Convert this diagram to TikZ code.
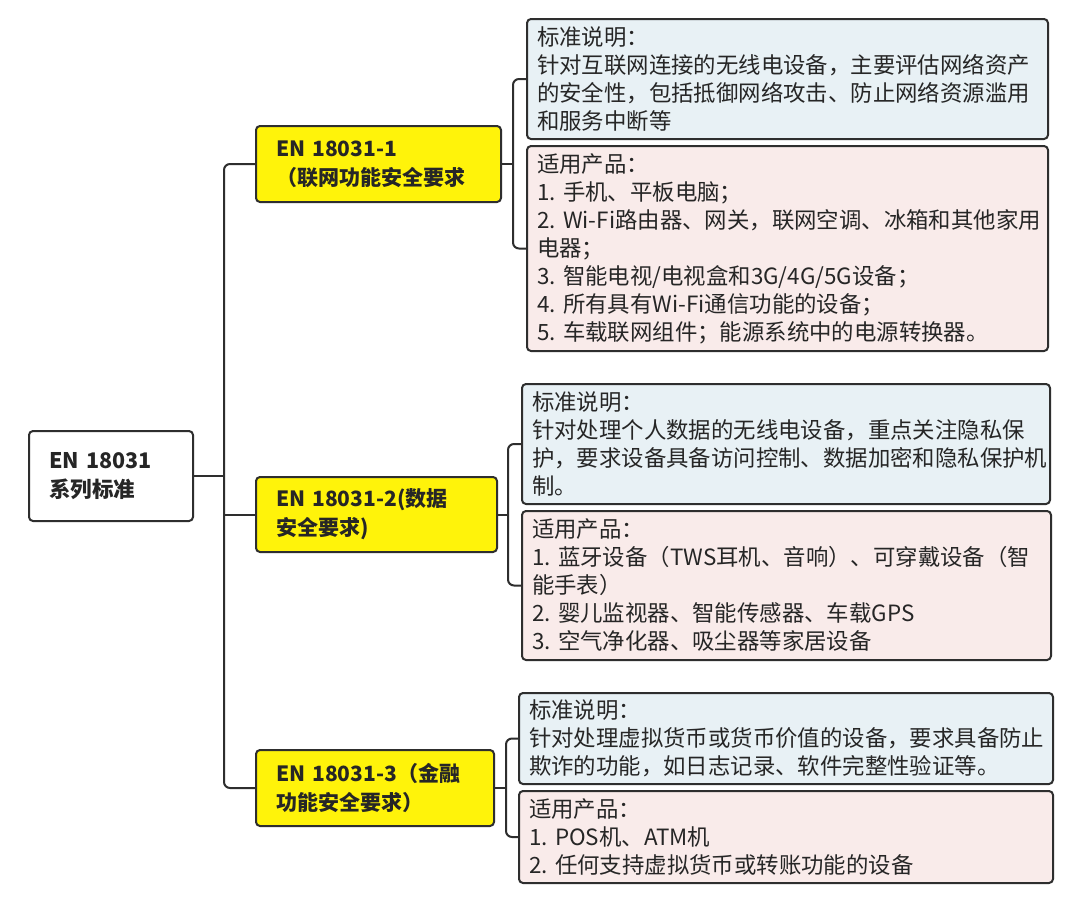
\documentclass[tikz,border=0pt]{standalone}
\usepackage{fontspec}
\setmainfont{Noto Sans CJK SC}
\frenchspacing
\definecolor{linec}{HTML}{2E2E2E}
\definecolor{textc}{HTML}{262626}
\definecolor{yellowc}{HTML}{FFF30A}
\definecolor{bluec}{HTML}{E8F1F5}
\definecolor{pinkc}{HTML}{F9EBEA}
\begin{document}
\begin{tikzpicture}[x=1pt,y=-1pt,
  conn/.style={draw=linec, line width=2pt, rounded corners=6pt},
  box/.style={draw=linec, line width=2pt, rounded corners=4pt, anchor=north west, align=left, inner ysep=0pt, text=textc},
  rootbox/.style={box, fill=white, inner xsep=20pt, font=\bfseries\fontsize{21.5}{29}\selectfont},
  stdbox/.style={box, fill=yellowc, inner xsep=20pt, font=\bfseries\fontsize{21}{29}\selectfont},
  infobox/.style={box, fill=bluec, inner xsep=10pt, font=\fontsize{22.4}{28}\selectfont},
  prodbox/.style={box, fill=pinkc, inner xsep=10pt, font=\fontsize{22.4}{28}\selectfont},
]
\fill[white] (0,0) rectangle (1080,905);
\useasboundingbox (0,0) rectangle (1080,905);

\node[rootbox, text width=124pt, minimum height=90pt] (root) at (28,430) {EN 18031\\系列标准};

\node[stdbox, text width=205pt, minimum height=76pt] (b1) at (255,125) {EN 18031-1\\（联网功能安全要求};
\node[stdbox, text width=201pt, minimum height=75pt] (b2) at (255,476) {EN 18031-2(数据\\安全要求)};
\node[stdbox, text width=198pt, minimum height=76pt] (b3) at (255,749) {EN 18031-3（金融\\功能安全要求）};

\node[infobox, text width=501pt, minimum height=120pt] (l1a) at (526,18) {标准说明：\\针对互联网连接的无线电设备，主要评估网络资产\\的安全性，包括抵御网络攻击、防止网络资源滥用\\和服务中断等};
\node[prodbox, text width=501pt, minimum height=205pt] (l1b) at (526,145) {适用产品：\\1. 手机、平板电脑；\\2. Wi-Fi路由器、网关，联网空调、冰箱和其他家用\\电器；\\3. 智能电视/电视盒和3G/4G/5G设备；\\4. 所有具有Wi-Fi通信功能的设备；\\5. 车载联网组件；能源系统中的电源转换器。};

\node[infobox, text width=508pt, minimum height=120pt] (l2a) at (521,383) {标准说明：\\针对处理个人数据的无线电设备，重点关注隐私保\\护，要求设备具备访问控制、数据加密和隐私保护机\\制。};
\node[prodbox, text width=509pt, minimum height=149pt] (l2b) at (521,510) {适用产品：\\1. 蓝牙设备（TWS耳机、音响）、可穿戴设备（智\\能手表）\\2. 婴儿监视器、智能传感器、车载GPS\\3. 空气净化器、吸尘器等家居设备};

\node[infobox, text width=514pt, minimum height=91pt] (l3a) at (518,692) {标准说明：\\针对处理虚拟货币或货币价值的设备，要求具备防止\\欺诈的功能，如日志记录、软件完整性验证等。};
\node[prodbox, text width=514pt, minimum height=92pt] (l3b) at (518,790) {适用产品：\\1. POS机、ATM机\\2. 任何支持虚拟货币或转账功能的设备};

\coordinate (tx) at (224,0);
\coordinate (s1) at (513,0);
\coordinate (s2) at (508,0);
\coordinate (s3) at (506,0);

\draw[conn] (b1.west) -- (b1.west -| tx) -- (b3.west -| tx) -- (b3.west);
\draw[conn] (root.east) -- (root.east -| tx);
\draw[conn] (b2.west) -- (b2.west -| tx);

\draw[conn] (l1a.west) -- (l1a.west -| s1) -- (l1b.west -| s1) -- (l1b.west);
\draw[conn] (b1.east) -- (b1.east -| s1);
\draw[conn] (l2a.west) -- (l2a.west -| s2) -- (l2b.west -| s2) -- (l2b.west);
\draw[conn] (b2.east) -- (b2.east -| s2);
\draw[conn] (l3a.west) -- (l3a.west -| s3) -- (l3b.west -| s3) -- (l3b.west);
\draw[conn] (b3.east) -- (b3.east -| s3);
\end{tikzpicture}
\end{document}
